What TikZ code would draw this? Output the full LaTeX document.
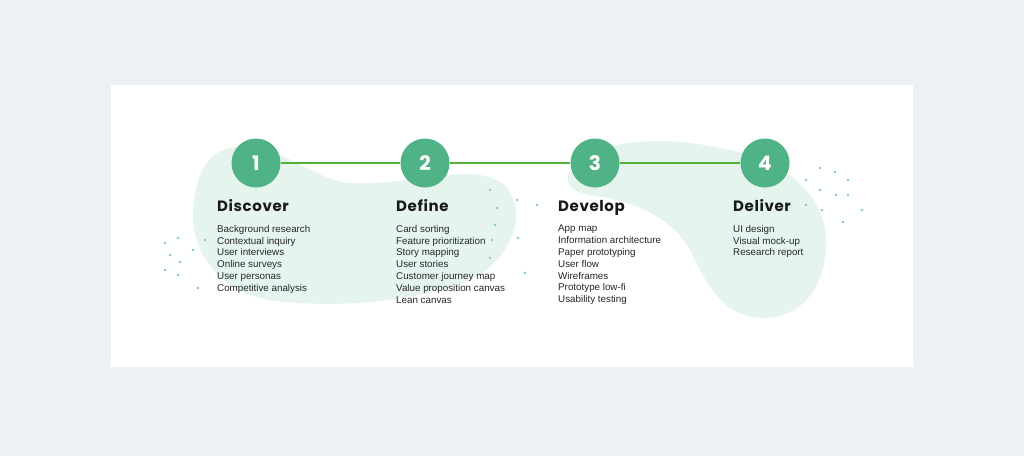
\documentclass[tikz,border=0pt]{standalone}
\usepackage{fontspec}
\setmainfont{Liberation Sans}
\newfontfamily\headfont{Poppins}[LetterSpace=4]
\newfontfamily\numfont{Poppins}
\definecolor{bgc}{HTML}{EEF1F4}
\definecolor{gc}{HTML}{4FB387}
\definecolor{blob}{HTML}{E5F5EE}
\definecolor{linec}{HTML}{52B13A}
\definecolor{dotc}{HTML}{7FCFAE}
\begin{document}
\begin{tikzpicture}[x=1pt,y=-1pt,
  num/.style={circle,fill=gc,minimum size=49pt,inner sep=0pt,text=white,font=\numfont\bfseries\fontsize{20}{20}\selectfont},
  head/.style={anchor=base west,inner sep=0pt,font=\headfont\bfseries\fontsize{15}{15}\selectfont,text=black!90},
  items/.style={anchor=north west,inner sep=0pt,align=left,font=\fontsize{9.8}{11.8}\selectfont,text=black!85},
  dot/.style={fill=dotc,circle,inner sep=0pt,minimum size=2.8pt}]
\fill[bgc] (0,0) rectangle (1024,456);
\fill[black!6] (113,88) rectangle (916,370);
\fill[white] (111,85) rectangle (913,367);
\fill[blob] (230,148) .. controls (280,140) and (310,180) .. (350,183)
  .. controls (420,186) and (470,160) .. (505,185)
  .. controls (530,215) and (510,260) .. (470,280)
  .. controls (420,300) and (340,310) .. (270,300)
  .. controls (210,290) and (185,240) .. (195,195)
  .. controls (200,165) and (212,152) .. (230,148) -- cycle;
\fill[blob] (575,165) .. controls (600,140) and (660,135) .. (720,148)
  .. controls (790,160) and (830,200) .. (826,250)
  .. controls (822,300) and (790,320) .. (760,318)
  .. controls (720,315) and (705,280) .. (690,250)
  .. controls (670,215) and (630,200) .. (590,195)
  .. controls (565,190) and (562,178) .. (575,165) -- cycle;
\foreach \p in {(165,243),(178,238),(170,255),(180,262),(193,250),(165,270),(178,275),(198,288),(205,240),
  (490,190),(497,208),(495,225),(492,240),(517,200),(518,238),(490,258),(525,273),(537,205),
  (820,168),(835,172),(848,180),(806,180),(820,190),(836,195),(848,195),(806,205),(822,210),(862,210),(843,222)}
  \node[dot] at \p {};
\node[num] (n1) at (256,163) {1};
\node[num] (n2) at (425,163) {2};
\node[num] (n3) at (595,163) {3};
\node[num] (n4) at (765,163) {4};
\draw[linec,line width=1.4pt] (n1) -- (n2) (n2) -- (n3) (n3) -- (n4);
\node[head] (h1) at (217,211) {Discover};
\node[head] (h2) at (396,211) {Define};
\node[head] (h3) at (558,211) {Develop};
\node[head] (h4) at (733,211) {Deliver};
\node[items] (l1) at (217,225) {Background research\\Contextual inquiry\\User interviews\\Online surveys\\User personas\\Competitive analysis};
\node[items] (l2) at (396,225) {Card sorting\\Feature prioritization\\Story mapping\\User stories\\Customer journey map\\Value proposition canvas\\Lean canvas};
\node[items] (l3) at (558,225) {App map\\Information architecture\\Paper prototyping\\User flow\\Wireframes\\Prototype low-fi\\Usability testing};
\node[items] (l4) at (733,225) {UI design\\Visual mock-up\\Research report};
\end{tikzpicture}
\end{document}
